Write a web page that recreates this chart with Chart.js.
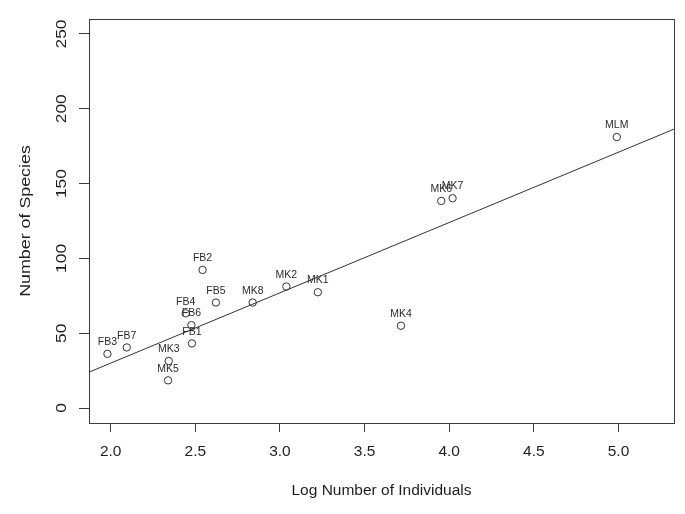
<!DOCTYPE html>
<html>
<head>
<meta charset="utf-8">
<script src="https://cdn.jsdelivr.net/npm/chart.js@4/dist/chart.umd.min.js"></script>
<style>
  html, body { margin: 0; padding: 0; background: #fff; }
  #wrap { width: 685px; height: 514px; }
</style>
</head>
<body>
<div id="wrap"><canvas id="chart" width="685" height="514"></canvas></div>
<script>
// sites
const siteNames = ['FB3', 'FB7', 'MK3', 'MK5', 'FB1', 'FB6', 'FB4', 'FB2', 'FB5', 'MK8',
                   'MK2', 'MK1', 'MK4', 'MK6', 'MK7', 'MLM'];
const logIndividuals = [1.981, 2.095, 2.343, 2.339, 2.480, 2.477, 2.443, 2.543, 2.622, 2.839,
                        3.038, 3.224, 3.715, 3.953, 4.020, 4.990];
const speciesCount = [36.2, 40.5, 31.4, 18.5, 43.2, 55.4, 63.3, 92.3, 70.5, 70.5,
                      81.2, 77.4, 55.0, 138.4, 140.2, 181.1];

// fitted line, ends at the plot edges
const fitX = [1.872, 5.328];
const fitY = [24.0, 186.4];

const xTicks = [2.0, 2.5, 3.0, 3.5, 4.0, 4.5, 5.0];
const xTickLabels = ['2.0', '2.5', '3.0', '3.5', '4.0', '4.5', '5.0'];
const yTicks = [0, 50, 100, 150, 200, 250];
const yTickLabels = ['0', '50', '100', '150', '200', '250'];

const xTitle = 'Log Number of Individuals';
const yTitle = 'Number of Species';

const FONT = '"Liberation Sans", Arial, Helvetica, sans-serif';
const INK = '#1e1e1e';
const LINE = '#3c3c3c';

// box, point labels and the rotated y axis text (R style)
const rDecor = {
  id: 'rDecor',
  afterDatasetsDraw(chart) {
    const {ctx} = chart;
    const meta = chart.getDatasetMeta(0);
    ctx.save();
    ctx.fillStyle = '#2a2a2a';
    ctx.font = '10.5px ' + FONT;
    ctx.textAlign = 'center';
    ctx.textBaseline = 'middle';
    meta.data.forEach((pt, i) => {
      ctx.save();
      ctx.translate(pt.x, pt.y - 12);
      ctx.scale(1, 1.12);
      ctx.fillText(siteNames[i], 0, 0);
      ctx.restore();
    });
    ctx.restore();
  },
  afterDraw(chart) {
    const {ctx, chartArea: a, scales} = chart;
    ctx.save();
    ctx.strokeStyle = LINE;
    ctx.lineWidth = 1;
    ctx.strokeRect(a.left + 0.5, a.top + 0.5, a.right - a.left, a.bottom - a.top);

    ctx.fillStyle = INK;
    ctx.textAlign = 'center';
    ctx.textBaseline = 'middle';
    ctx.font = '15.5px ' + FONT;
    yTicks.forEach((v, i) => {
      const py = scales.y.getPixelForValue(v);
      ctx.save();
      ctx.translate(61.5, py);
      ctx.rotate(-Math.PI / 2);
      ctx.scale(1.12, 1);
      ctx.fillText(yTickLabels[i], 0, 0);
      ctx.restore();
    });

    ctx.save();
    ctx.translate(26, (a.top + a.bottom) / 2);
    ctx.rotate(-Math.PI / 2);
    ctx.scale(1.15, 1);
    ctx.fillText(yTitle, 0, 0);
    ctx.restore();
    ctx.restore();
  }
};

new Chart(document.getElementById('chart'), {
  type: 'scatter',
  data: {
    datasets: [
      { label: 'Sites',
        data: logIndividuals.map((x, i) => ({x: x, y: speciesCount[i]})),
        pointStyle: 'circle',
        pointRadius: 3.7,
        pointBorderWidth: 1,
        borderColor: '#333',
        backgroundColor: 'rgba(0,0,0,0)',
        pointHoverRadius: 3.7
      },
      { label: 'Fit',
        type: 'line',
        data: fitX.map((x, i) => ({x: x, y: fitY[i]})),
        borderColor: '#333',
        borderWidth: 1,
        pointRadius: 0,
        fill: false
      }
    ]
  },
  options: {
    responsive: false,
    animation: false,
    events: [],
    layout: { padding: { top: 19, right: 11, bottom: 0, left: 0 } },
    plugins: {
      legend: { display: false },
      tooltip: { enabled: false }
    },
    scales: {
      x: {
        type: 'linear',
        min: 1.872,
        max: 5.328,
        afterBuildTicks: s => { s.ticks = xTicks.map(v => ({value: v})); },
        afterFit: s => { s.height = 91; },
        border: { display: false },
        grid: { drawOnChartArea: false, drawTicks: true, tickLength: 9, color: LINE },
        ticks: {
          autoSkip: false,
          maxRotation: 0,
          padding: 10,
          color: INK,
          font: { family: FONT, size: 15.5 },
          callback: (v, i) => xTickLabels[i]
        },
        title: {
          display: true,
          text: xTitle,
          color: INK,
          font: { family: FONT, size: 15.5 },
          padding: { top: 0, bottom: 14 }
        }
      },
      y: {
        type: 'linear',
        min: -10,
        max: 260,
        afterBuildTicks: s => { s.ticks = yTicks.map(v => ({value: v})); },
        afterFit: s => { s.width = 89; },
        border: { display: false },
        grid: { drawOnChartArea: false, drawTicks: true, tickLength: 10, color: LINE },
        ticks: { display: false }
      }
    }
  },
  plugins: [rDecor]
});
</script>
</body>
</html>
